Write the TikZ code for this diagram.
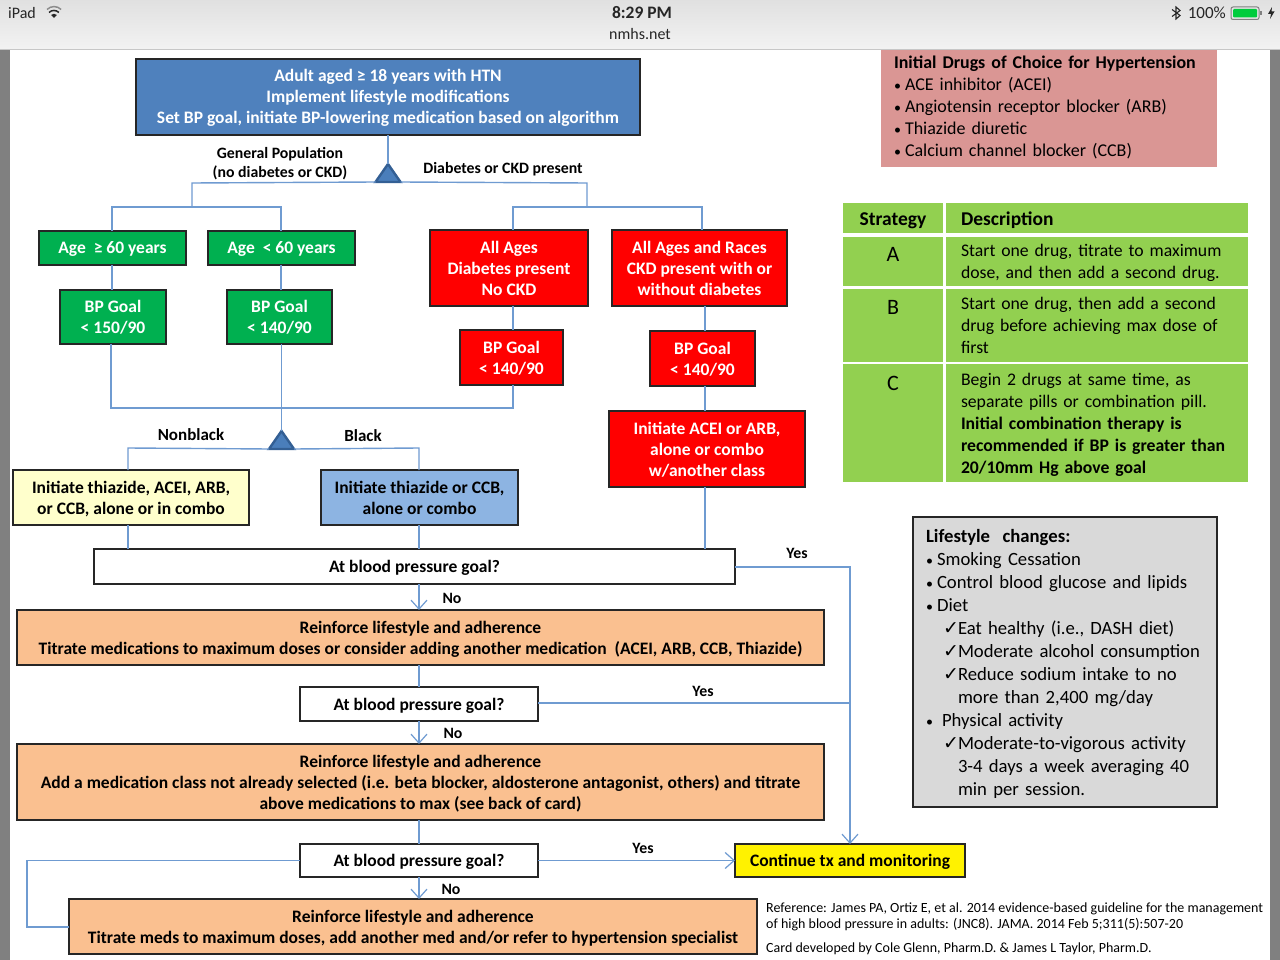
\documentclass[tikz,border=0pt]{standalone}
\usepackage{fontspec}
\setmainfont{Carlito}
\newfontfamily\sym{DejaVu Sans}
\usetikzlibrary{arrows.meta,shapes.geometric}
\definecolor{conn}{HTML}{6F9BD1}
\definecolor{mblue}{HTML}{4F81BD}
\definecolor{lblue}{HTML}{8DB4E2}
\definecolor{mgreen}{HTML}{00B050}
\definecolor{lgreen}{HTML}{92D050}
\definecolor{morange}{HTML}{FAC090}
\definecolor{lyellow}{HTML}{FFFFCC}
\definecolor{mpink}{HTML}{DA9694}
\definecolor{mgray}{HTML}{D9D9D9}
\definecolor{sidegray}{HTML}{808080}
\definecolor{tricol}{HTML}{4A7EBB}
\definecolor{triedge}{HTML}{335F94}
\tikzset{
  base/.style={inner sep=0pt,outer sep=0pt,font=\fontsize{17.5}{21}\selectfont\bfseries,align=center,text=black},
  rec/.style={base,draw=black!85,line width=1.3pt},
  lab/.style={inner sep=0pt,font=\fontsize{15.8}{19}\selectfont\bfseries,align=center},
  tcell/.style={inner sep=0pt,outer sep=0pt,fill=lgreen},
  ttext/.style={inner sep=0pt,font=\fontsize{17.7}{22}\selectfont,align=left},
  thead/.style={font=\fontsize{19.5}{22}\selectfont\bfseries},
  cn/.style={draw=conn,line width=1.4pt},
  cna/.style={cn,-{Straight Barb[length=9pt,width=16pt,line width=1.2pt]}},
  tri/.style={isosceles triangle,isosceles triangle stretches,shape border rotate=90,draw=triedge,fill=tricol,line width=2.4pt,inner sep=0pt,outer sep=0pt,minimum width=25pt,minimum height=18pt},
  stat/.style={inner sep=0pt,font=\fontsize{16}{19}\selectfont,text=black!85}
}
\newcommand{\boxat}[7]{%
  \pgfmathsetmacro{\bxw}{#4-#2}\pgfmathsetmacro{\bxh}{#5-#3}%
  \pgfmathsetmacro{\bxx}{(#2+#4)/2}\pgfmathsetmacro{\bxy}{(#3+#5)/2}%
  \node[#6,minimum width=\bxw pt,minimum height=\bxh pt] (#1) at (\bxx,\bxy) {\rule{0pt}{16pt}#7\rule[-4pt]{0pt}{4pt}};%
}
\begin{document}
\begin{tikzpicture}[x=1pt,y=-1pt]
\useasboundingbox (0,0) rectangle (1280,960);
\fill[white] (0,0) rectangle (1280,960);
\fill[sidegray] (0,49) rectangle (10,960);
\fill[sidegray] (1270,49) rectangle (1280,960);
\newcommand{\bul}{\makebox[11pt][l]{\fontsize{14}{14}\selectfont •}}
\newcommand{\chk}{\hspace*{17pt}\makebox[15pt][l]{\sym\fontsize{19}{15}\selectfont ✓}}

% pink box (its top runs under the status bar)
\boxat{drugs}{881}{47}{1217}{167}{base,fill=mpink,font=\fontsize{18}{22}\selectfont,align=left,text width=310pt}{%
{\fontsize{17.9}{22}\selectfont\bfseries Initial Drugs of Choice for Hypertension}\\
\bul ACE inhibitor (ACEI)\\
\bul Angiotensin receptor blocker (ARB)\\
\bul Thiazide diuretic\\
\bul Calcium channel blocker (CCB)}

% status bar
\shade[top color=black!12,bottom color=black!5] (0,0) rectangle (1280,49);
\draw[black!22,line width=1pt] (0,49.5) -- (1280,49.5);
\node[stat,anchor=west] (ipad) at (8,13) {iPad};
\node[stat,anchor=center,font=\fontsize{17.5}{19}\selectfont\bfseries] (clock) at (642,13) {8:29 PM};
\node[stat] (site) at (640,34) {nmhs.net};
\node[stat,anchor=east,font=\fontsize{17}{19}\selectfont] (pct) at (1226,13) {100\%};
% wifi
\fill[black!85] (54,18) -- (51,15) arc (225:315:4.2) -- cycle;
\draw[black!85,line width=1.5pt] (49,12.5) arc (225:315:7);
\draw[black!45,line width=1.5pt] (47,9.5) arc (225:315:10);
% bluetooth
\draw[black!85,line width=1.1pt] (1172,9.5) -- (1180,15.5) -- (1176,19) -- (1176,7) -- (1180,10.5) -- (1172,16.5);
% battery
\draw[black!50,line width=1pt,rounded corners=2pt] (1231,7) rectangle (1259,19.5);
\fill[rounded corners=1pt,fill=green!70!cyan!80!black] (1233,9) rectangle (1257,17.5);
\fill[black!50] (1260,11) rectangle (1261.5,15.5);
% charge bolt
\fill[black!85] (1272,7) -- (1268,14) -- (1271,14) -- (1270,19) -- (1274.5,11.5) -- (1271.5,11.5) -- cycle;

% flow boxes
\boxat{top}{136}{59}{640}{135}{rec,text=white,fill=mblue}{Adult aged ≥ 18 years with HTN\\Implement lifestyle modifications\\Set BP goal, initiate BP-lowering medication based on algorithm}
\node[tri,anchor=apex] (t1) at (388,164) {};
\boxat{g1}{39}{231}{186}{265}{rec,fill=mgreen,text=white}{Age \ ≥ 60 years}
\boxat{g2}{208}{231}{355}{265}{rec,fill=mgreen,text=white}{Age \ < 60 years}
\boxat{g3}{60}{290}{166}{344}{rec,fill=mgreen,text=white}{BP Goal\\< 150/90}
\boxat{g4}{227}{290}{332}{344}{rec,fill=mgreen,text=white}{BP Goal\\< 140/90}
\boxat{r1}{430}{230}{588}{306}{rec,fill=red,text=white}{All Ages\\Diabetes present\\No CKD}
\boxat{r2}{612}{230}{787}{306}{rec,fill=red,text=white}{All Ages and Races\\CKD present with or\\without diabetes}
\boxat{r3}{460}{330}{563}{385}{rec,fill=red,text=white}{BP Goal\\< 140/90}
\boxat{r4}{650}{331}{755}{386}{rec,fill=red,text=white}{BP Goal\\< 140/90}
\boxat{r5}{609}{411}{805}{487}{rec,fill=red,text=white}{Initiate ACEI or ARB,\\alone or combo\\w/another class}
\node[tri,anchor=apex] (t2) at (281.5,431) {};
\boxat{ynb}{13}{470}{249}{525}{rec,fill=lyellow}{Initiate thiazide, ACEI, ARB,\\or CCB, alone or in combo}
\boxat{bb}{321}{470}{518}{525}{rec,fill=lblue}{Initiate thiazide or CCB,\\alone or combo}
\boxat{w1}{94}{549}{735}{584}{rec,fill=white}{At blood pressure goal?}
\boxat{o1}{17}{610}{824}{665}{rec,fill=morange}{Reinforce lifestyle and adherence\\Titrate medications to maximum doses or consider adding another medication \ (ACEI, ARB, CCB, Thiazide)}
\boxat{w2}{300}{687}{538}{721}{rec,fill=white}{At blood pressure goal?}
\boxat{o2}{17}{744}{824}{820}{rec,fill=morange}{Reinforce lifestyle and adherence\\Add a medication class not already selected (i.e. beta blocker, aldosterone antagonist, others) and titrate\\above medications to max (see back of card)}
\boxat{w3}{300}{844}{538}{877}{rec,fill=white}{At blood pressure goal?}
\boxat{o3}{69}{899}{757}{954}{rec,fill=morange}{Reinforce lifestyle and adherence\\Titrate meds to maximum doses, add another med and/or refer to hypertension specialist}
\boxat{cont}{735}{844}{965}{877}{rec,fill=yellow}{Continue tx and monitoring}

% junction coordinates
\coordinate (jl1) at (192,183);
\coordinate (jr1) at (587,183);
\coordinate (jl2) at (192,207);
\coordinate (jr2) at (587,207);
\coordinate (ja) at (112,207);
\coordinate (jb) at (281,207);
\coordinate (jc) at (513,207);
\coordinate (jd) at (702,207);
\coordinate (je) at (111,408);
\coordinate (jf) at (513,408);
\coordinate (jg) at (281.5,408);
\coordinate (jn) at (128,448);
\coordinate (jm) at (419,448);
\coordinate (jy) at (850,567);
\coordinate (jy2) at (850,703);
\coordinate (jq) at (27,860.5);
\coordinate (jq2) at (27,927);
\coordinate (xo) at (419,0);
\coordinate (xr) at (705,0);

% connectors
\draw[cn] (top.south -| t1.apex) -- (t1.apex);
\draw[cn] (t1.left corner) -- (jl1) -- (jl2);
\draw[cn] (t1.right corner) -- (jr1) -- (jr2);
\draw[cn] (g1.north -| ja) -- (ja) -- (jb) -- (g2.north -| jb);
\draw[cn] (r1.north -| jc) -- (jc) -- (jd) -- (r2.north -| jd);
\draw[cn] (g1.south -| ja) -- (g3.north -| ja);
\draw[cn] (g2.south -| jb) -- (g4.north -| jb);
\draw[cn] (r1.south -| jc) -- (r3.north -| jc);
\draw[cn] (r2.south -| xr) -- (r4.north -| xr);
\draw[cn] (r4.south -| xr) -- (r5.north -| xr);
\draw[cn] (r5.south -| xr) -- (w1.north -| xr);
\draw[cn] (g3.south -| je) -- (je) -- (jf) -- (r3.south -| jf);
\draw[cn] (g4.south -| jg) -- (t2.apex);
\draw[cn] (t2.left corner) -- (jn) -- (ynb.north -| jn);
\draw[cn] (t2.right corner) -- (jm) -- (bb.north -| jm);
\draw[cn] (ynb.south -| jn) -- (w1.north -| jn);
\draw[cn] (bb.south -| jm) -- (w1.north -| jm);
\draw[cna] (w1.south -| xo) -- (o1.north -| xo);
\draw[cn] (o1.south -| xo) -- (w2.north -| xo);
\draw[cna] (w2.south -| xo) -- (o2.north -| xo);
\draw[cn] (o2.south -| xo) -- (w3.north -| xo);
\draw[cna] (w3.south -| xo) -- (o3.north -| xo);
\draw[cna] (w1.east |- jy) -- (jy) -- (cont.north -| jy);
\draw[cn] (w2.east |- jy2) -- (jy2);
\draw[cna] (w3.east) -- (cont.west);
\draw[cn] (w3.west) -- (jq) -- (jq2) -- (o3.west |- jq2);

% connector labels
\node[lab] (l1) at (280,163.5) {General Population\\(no diabetes or CKD)};
\node[lab] (l2) at (503,169) {Diabetes or CKD present};
\node[lab,font=\fontsize{17}{19}\selectfont\bfseries] (l3) at (191,435) {Nonblack};
\node[lab,font=\fontsize{17}{19}\selectfont\bfseries] (l4) at (363,436) {Black};
\node[lab] (y1) at (797,553) {Yes};
\node[lab] (n1) at (452,598) {No};
\node[lab] (y2) at (703,691.5) {Yes};
\node[lab] (n2) at (453,733) {No};
\node[lab] (y3) at (643,848.5) {Yes};
\node[lab] (n3) at (451,889) {No};

% strategy table
\boxat{hs}{843}{203}{943}{233}{tcell,thead}{\rule{0pt}{20pt}Strategy}
\boxat{hd}{946}{203}{1248}{233}{tcell,thead,align=left,text width=272pt}{\rule{0pt}{20pt}Description}
\boxat{ca}{843}{237}{943}{286}{tcell}{}
\boxat{da}{946}{237}{1248}{286}{tcell,ttext,text width=272pt}{Start one drug, titrate to maximum\\dose, and then add a second drug.}
\boxat{cb}{843}{289}{943}{362}{tcell}{}
\boxat{db}{946}{289}{1248}{362}{tcell,ttext,text width=272pt}{Start one drug, then add a second\\drug before achieving max dose of\\first}
\boxat{cc}{843}{364}{943}{482}{tcell}{}
\boxat{dc}{946}{364}{1248}{482}{tcell,ttext,text width=272pt}{Begin 2 drugs at same time, as\\separate pills or combination pill.\\{\bfseries Initial combination therapy is}\\{\bfseries recommended if BP is greater than}\\{\bfseries 20/10mm Hg above goal}}
\node[inner sep=0pt,font=\fontsize{22}{24}\selectfont] (la) at (893,254) {A};
\node[inner sep=0pt,font=\fontsize{22}{24}\selectfont] (lb) at (893,307) {B};
\node[inner sep=0pt,font=\fontsize{22}{24}\selectfont] (lc) at (893,383) {C};

% lifestyle box
\boxat{life}{913}{517}{1217}{807}{rec,fill=mgray,font=\fontsize{18.7}{23}\selectfont,align=left,text width=278pt}{%
\rule{0pt}{18pt}{\bfseries Lifestyle \ changes:}\\
\bul Smoking Cessation\\
\bul Control blood glucose and lipids\\
\bul Diet\\
\chk Eat healthy (i.e., DASH diet)\\
\chk Moderate alcohol consumption\\
\chk Reduce sodium intake to no\\
\hspace*{32pt}more than 2,400 mg/day\\
\makebox[16pt][l]{\fontsize{14}{14}\selectfont •}Physical activity\\
\chk Moderate-to-vigorous activity\\
\hspace*{32pt}3-4 days a week averaging 40\\
\hspace*{32pt}min per session.}

% reference text
\node[anchor=north west,inner sep=0pt,font=\fontsize{14}{16}\selectfont,align=left] (ref) at (766,902.5) {Reference: James PA, Ortiz E, et al. 2014 evidence-based guideline for the management\\of high blood pressure in adults: (JNC8). JAMA. 2014 Feb 5;311(5):507-20};
\node[anchor=west,inner sep=0pt,font=\fontsize{14}{16}\selectfont] (card) at (766,948.5) {Card developed by Cole Glenn, Pharm.D. \& James L Taylor, Pharm.D.};
\end{tikzpicture}
\end{document}
